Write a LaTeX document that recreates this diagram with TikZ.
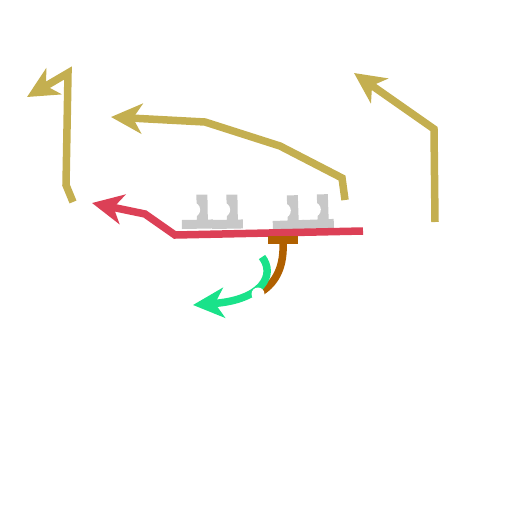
\documentclass[tikz,border=0pt]{standalone}
\usetikzlibrary{arrows.meta}
\definecolor{gold}{RGB}{196,175,80}
\definecolor{rred}{RGB}{220,64,86}
\definecolor{brn}{RGB}{176,96,0}
\definecolor{grn}{RGB}{26,226,138}
\definecolor{gry}{RGB}{200,200,200}
\tikzset{
  route/.style={line width=7.5pt, line join=miter},
  head/.style={-{Stealth[length=31pt,width=30pt,inset=9pt]}},
  player/.pic={
    \fill[gry] (15,-34) rectangle (26,-8);
    \fill[gry] (0,-9) rectangle (31,0);
    \fill[white] (11,-19) circle (7.5);
  }
}
\begin{document}
\begin{tikzpicture}[x=1pt,y=-1pt]
\useasboundingbox (0,0) rectangle (512,512);
% players
\pic[rotate=1] at (182,229) {player};
\pic[rotate=1] at (212,229) {player};
\pic[rotate=2] at (273,230) {player};
\pic[rotate=2] at (303,229) {player};
% routes
\coordinate (a0) at (73,202);
\coordinate (a1) at (66,185);
\coordinate (a2) at (68,73);
\coordinate (a3) at (27,97);
\draw[route,gold,head] (a0) -- (a1) -- (a2) -- (a3);
\coordinate (b0) at (345,200);
\coordinate (b1) at (342,178);
\coordinate (b2) at (280,146);
\coordinate (b3) at (205,122);
\coordinate (b4) at (111,117);
\draw[route,gold,head] (b0) -- (b1) -- (b2) -- (b3) -- (b4);
\coordinate (c0) at (435,222);
\coordinate (c1) at (434,129);
\coordinate (c2) at (354,73);
\draw[route,gold,head] (c0) -- (c1) -- (c2);
\coordinate (r0) at (363,231);
\coordinate (r1) at (175,235);
\coordinate (r2) at (145,214);
\coordinate (r3) at (92,203);
\draw[route,rred,head] (r0) -- (r1) -- (r2) -- (r3);
% block / T
\fill[brn] (268,236) rectangle (298,244);
\coordinate (o0) at (283,243);
\coordinate (o1) at (261,292);
\draw[line width=7.5pt,brn] (o0) .. controls (284,265) and (277,282) .. (o1);
% handoff
\coordinate (g0) at (262,257);
\coordinate (g1) at (193,305);
\draw[line width=7.5pt,grn,head] (g0) .. controls (276,275) and (262,300) .. (g1);
\node[circle,fill=white,minimum size=13pt,inner sep=0pt] (ball) at (258,294) {};
\end{tikzpicture}
\end{document}
